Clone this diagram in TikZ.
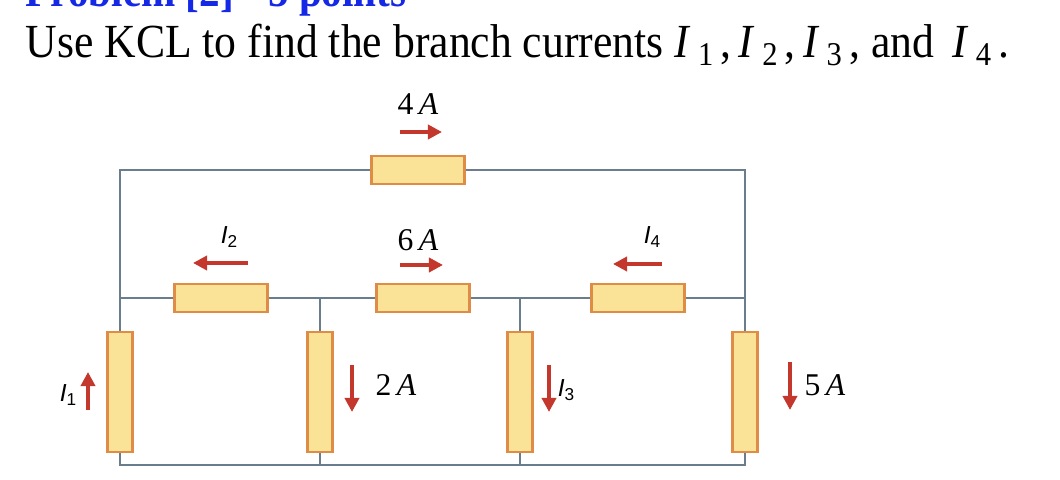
\documentclass[tikz,border=0pt]{standalone}
\usepackage{fontspec}
\setmainfont{Liberation Serif}
\newfontfamily\lsans{Liberation Sans}
\usetikzlibrary{arrows.meta}
\definecolor{wire}{RGB}{105,125,140}
\definecolor{rfill}{RGB}{250,226,150}
\definecolor{rdraw}{RGB}{222,140,70}
\definecolor{arr}{RGB}{195,55,45}
\definecolor{ttl}{RGB}{20,40,230}
\newcommand{\Isub}[1]{\textit{I}\,\raisebox{-0.35ex}{\scalebox{0.7}{#1}}}
\newcommand{\Jsub}[1]{\textit{I}\raisebox{-0.35ex}{\scalebox{0.7}{#1}}}
\begin{document}
\begin{tikzpicture}[x=0.01cm,y=-0.01cm,
  w/.style={draw=wire,line width=0.7pt},
  hres/.style={draw=rdraw,fill=rfill,line width=0.8pt,minimum width=0.93cm,minimum height=0.28cm,inner sep=0pt},
  vres/.style={draw=rdraw,fill=rfill,line width=0.8pt,minimum width=0.25cm,minimum height=1.2cm,inner sep=0pt},
  ca/.style={draw=arr,line width=1.3pt,-{Triangle[length=4pt,width=4pt]}},
  lbl/.style={font=\fontsize{9}{9}\selectfont,inner sep=0pt},
  il/.style={font=\lsans\fontsize{7}{7}\selectfont,inner sep=0pt}]
\clip (0,0) rectangle (1060,480);
\useasboundingbox (0,0) rectangle (1060,480);
\node[anchor=west,inner sep=0pt,text=ttl,font=\bfseries\fontsize{13}{13}\selectfont,xscale=0.9] (ptitle) at (25,-4) {Problem [2] - 5 points};
\node[anchor=west,inner sep=0pt,font=\fontsize{13.5}{13.5}\selectfont,xscale=0.92] (title) at (25,45) {Use KCL to find the branch currents \Isub{1}\,,\,\Isub{2}\,,\,\Isub{3}\,, and\, \Isub{4}\,.};
\coordinate (tl) at (120,170); \coordinate (tr) at (745,170);
\coordinate (ml) at (120,298); \coordinate (m1) at (320,298); \coordinate (m2) at (520,298); \coordinate (mr) at (745,298);
\coordinate (bl) at (120,465); \coordinate (b1) at (320,465); \coordinate (b2) at (520,465); \coordinate (br) at (745,465);
\node[hres] (rt) at (418,170) {};
\node[hres] (r2) at (221,298) {};
\node[hres] (r6) at (423,298) {};
\node[hres] (r4) at (638,298) {};
\node[vres] (ra) at (120,392) {};
\node[vres] (rb) at (320,392) {};
\node[vres] (rc) at (520,392) {};
\node[vres] (rd) at (745,392) {};
\draw[w] (ra.north) -- (ml) -- (tl) -- (rt.west);
\draw[w] (rt.east) -- (tr) -- (mr) -- (rd.north);
\draw[w] (ml) -- (r2.west); \draw[w] (r2.east) -- (m1) -- (r6.west);
\draw[w] (r6.east) -- (m2) -- (r4.west); \draw[w] (r4.east) -- (mr);
\draw[w] (m1) -- (rb.north); \draw[w] (m2) -- (rc.north);
\draw[w] (ra.south) -- (bl) -- (b1) -- (b2) -- (br) -- (rd.south);
\draw[w] (rb.south) -- (b1); \draw[w] (rc.south) -- (b2);
\coordinate (a1s) at (400,132); \coordinate (a1e) at (442,132); \draw[ca] (a1s) -- (a1e);
\node[lbl] (l4a) at (418,104) {4\,\textit{A}};
\coordinate (a2s) at (248,263); \coordinate (a2e) at (193,263); \draw[ca] (a2s) -- (a2e);
\node[il] (li2) at (229,237) {\Jsub{2}};
\coordinate (a3s) at (400,265); \coordinate (a3e) at (443,265); \draw[ca] (a3s) -- (a3e);
\node[lbl] (l6a) at (418,240) {6\,\textit{A}};
\coordinate (a4s) at (662,264); \coordinate (a4e) at (613,264); \draw[ca] (a4s) -- (a4e);
\node[il] (li4) at (652,237) {\Jsub{4}};
\coordinate (a5s) at (88,410); \coordinate (a5e) at (88,372); \draw[ca] (a5s) -- (a5e);
\node[il] (li1) at (68,395) {\Jsub{1}};
\coordinate (a6s) at (352,365); \coordinate (a6e) at (352,412); \draw[ca] (a6s) -- (a6e);
\node[lbl] (l2a) at (396,385) {2\,\textit{A}};
\coordinate (a7s) at (549,365); \coordinate (a7e) at (549,412); \draw[ca] (a7s) -- (a7e);
\node[il] (li3) at (566,390) {\Jsub{3}};
\coordinate (a8s) at (790,362); \coordinate (a8e) at (790,410); \draw[ca] (a8s) -- (a8e);
\node[lbl] (l5a) at (825,385) {5\,\textit{A}};
\end{tikzpicture}
\end{document}
